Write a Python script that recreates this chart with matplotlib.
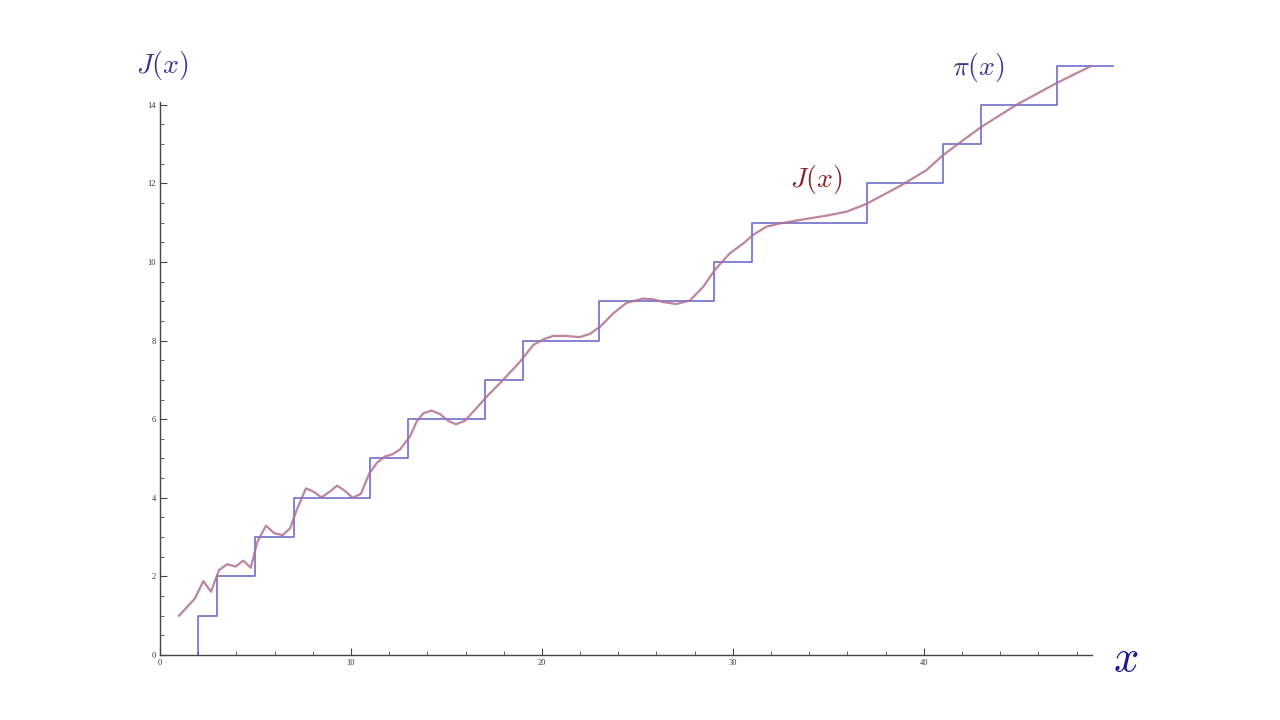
import matplotlib
matplotlib.use("Agg")
import matplotlib.pyplot as plt
from matplotlib.ticker import MultipleLocator

plt.rcParams['mathtext.fontset'] = 'cm'

# prime steps of pi(x)
primes = [2, 3, 5, 7, 11, 13, 17, 19, 23, 29, 31, 37, 41, 43, 47]
x_end = 49.9

# J(x)
j_x = [1.0, 1.83, 2.27, 2.67, 3.09, 3.52, 3.96, 4.36, 4.75, 5.1, 5.55, 5.98, 6.42,
       6.81, 7.16, 7.64, 8.03, 8.46, 8.9, 9.28, 9.67, 10.09, 10.52, 10.96, 11.38,
       11.78, 12.18, 12.57, 13.09, 13.44, 13.79, 14.22, 14.66, 15.09, 15.5, 15.97,
       16.57, 17.1, 17.97, 18.85, 19.55, 20.07, 20.59, 21.2, 21.99, 22.51, 23.04,
       23.73, 24.43, 25.3, 25.83, 26.35, 27.04, 27.75, 28.45, 29.06, 29.84, 30.54,
       31.06, 31.76, 32.46, 33.51, 34.9, 35.95, 37.0, 38.04, 38.92, 40.14, 41.01,
       42.06, 43.02, 44.85, 46.94, 48.78]
j_y = [1.0, 1.44, 1.88, 1.61, 2.16, 2.31, 2.25, 2.40, 2.22, 2.88, 3.29, 3.10, 3.05,
       3.22, 3.69, 4.24, 4.16, 4.01, 4.16, 4.31, 4.18, 4.00, 4.10, 4.62, 4.90,
       5.05, 5.11, 5.23, 5.56, 5.94, 6.15, 6.22, 6.13, 5.96, 5.87, 5.96,
       6.28, 6.57, 7.0, 7.46, 7.89, 8.03, 8.12, 8.12, 8.09, 8.17, 8.35,
       8.69, 8.96, 9.07, 9.05, 8.98, 8.93, 9.02, 9.37, 9.80, 10.22, 10.47,
       10.69, 10.90, 10.98, 11.07, 11.18, 11.28, 11.48, 11.75, 11.98, 12.34, 12.72,
       13.1, 13.44, 14.0, 14.55, 14.99]

# build step path
pi_x = [primes[0]]
pi_y = [0]
for i, p in enumerate(primes):
    pi_x.append(p)
    pi_y.append(i + 1)
    nxt = primes[i + 1] if i + 1 < len(primes) else x_end
    pi_x.append(nxt)
    pi_y.append(i + 1)

fig = plt.figure(figsize=(12.8, 7.2), dpi=100)
ax = fig.add_axes([0.125, 0.0903, 0.728, 0.7685])

ax.plot(pi_x, pi_y, color='#5555c4', lw=1.2, alpha=0.85, clip_on=False, zorder=2)
ax.plot(j_x, j_y, color='#b46e8e', lw=1.6, alpha=0.85, clip_on=False, zorder=3)

ax.set_xlim(0, 48.8)
ax.set_ylim(0, 14.08)
for s in ['top', 'right']:
    ax.spines[s].set_visible(False)
for s in ['left', 'bottom']:
    ax.spines[s].set_color('#444444')
    ax.spines[s].set_linewidth(1.0)

ax.xaxis.set_major_locator(MultipleLocator(10))
ax.xaxis.set_minor_locator(MultipleLocator(2))
ax.yaxis.set_major_locator(MultipleLocator(2))
ax.yaxis.set_minor_locator(MultipleLocator(0.5))
ax.tick_params(which='major', direction='in', length=5, width=0.8, color='#444444',
               labelsize=6, pad=3, labelcolor='#333333')
ax.tick_params(which='minor', direction='in', length=3, width=0.6, color='#444444')
for lab in ax.get_xticklabels() + ax.get_yticklabels():
    lab.set_family('Liberation Serif')

fig.text(162 / 1280, 1 - 65 / 720, r'$J(x)$', color='#3b3590', fontsize=20,
         ha='center', va='center')
fig.text(978 / 1280, 1 - 68 / 720, r'$\pi(x)$', color='#3b3590', fontsize=20,
         ha='center', va='center')
fig.text(816 / 1280, 1 - 180 / 720, r'$J(x)$', color='#8b2222', fontsize=20,
         ha='center', va='center')
fig.text(1126 / 1280, 1 - 658 / 720, r'$x$', color='#1a1a8c', fontsize=32,
         ha='center', va='center')

fig.savefig('out.png', dpi=100, facecolor='white')
